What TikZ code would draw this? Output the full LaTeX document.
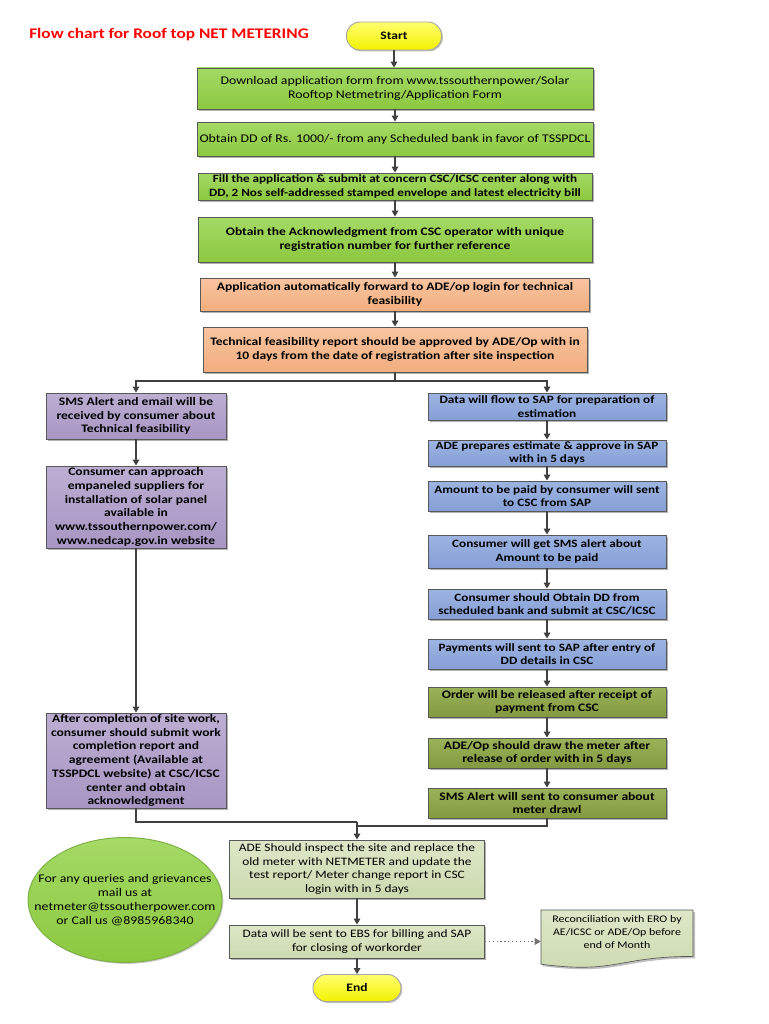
\documentclass[tikz,border=0pt]{standalone}
\usepackage{fontspec}
\setmainfont{Carlito}[FakeStretch=1.18]
\usetikzlibrary{arrows.meta,shadows,shapes.geometric}
\definecolor{bord}{HTML}{595959}
\definecolor{lineg}{HTML}{404040}
\definecolor{gtop}{HTML}{A4DA66}
\definecolor{gbot}{HTML}{8CC83F}
\definecolor{otop}{HTML}{F8C4A0}
\definecolor{obot}{HTML}{F2AE7E}
\definecolor{ptop}{HTML}{BCAED3}
\definecolor{pbot}{HTML}{A895C3}
\definecolor{btop}{HTML}{9DB4E2}
\definecolor{bbot}{HTML}{859FD6}
\definecolor{oltop}{HTML}{9BB358}
\definecolor{olbot}{HTML}{82993F}
\definecolor{stop}{HTML}{DDE7C8}
\definecolor{sbot}{HTML}{CCDAAF}
\definecolor{ytop}{HTML}{FFFF70}
\definecolor{ybot}{HTML}{F2F200}
\definecolor{ellb}{HTML}{7DAF45}
\begin{document}
\begin{tikzpicture}[x=0.75pt,y=-0.75pt,
  wh/.style 2 args={minimum width=#1*0.75pt, minimum height=#2*0.75pt},
  base/.style={draw=bord, line width=0.7pt, align=center, inner sep=0pt,
    drop shadow={shadow xshift=1.2pt, shadow yshift=-1.2pt, opacity=0.3, fill=black}},
  gbox/.style={base, top color=gtop, bottom color=gbot, font=\fontsize{8.8}{10.4}\selectfont},
  gboxb/.style={gbox, font=\bfseries\fontsize{8.6}{10.4}\selectfont},
  obox/.style={base, top color=otop, bottom color=obot, font=\bfseries\fontsize{8.6}{10.4}\selectfont},
  pbox/.style={base, top color=ptop, bottom color=pbot, font=\bfseries\fontsize{8.6}{10.3}\selectfont},
  bbox/.style={base, top color=btop, bottom color=bbot, font=\bfseries\fontsize{8.4}{10}\selectfont},
  olbox/.style={base, top color=oltop, bottom color=olbot, font=\bfseries\fontsize{8.6}{10.2}\selectfont},
  sbox/.style={base, top color=stop, bottom color=sbot, font=\fontsize{8.5}{10.4}\selectfont},
  pill/.style={draw=black!35, line width=0.7pt, top color=ytop, bottom color=ybot, rounded corners=10pt,
    font=\bfseries\fontsize{8.6}{10}\selectfont, inner sep=0pt,
    drop shadow={shadow xshift=1pt, shadow yshift=-1pt, opacity=0.25, fill=black}},
  ln/.style={draw=lineg, line width=0.9pt},
  flow/.style={ln, -{Triangle[width=5pt,length=4.5pt]}},
  dflow/.style={draw=black!55, line width=0.9pt, dotted, -{Triangle[width=5pt,length=4.5pt]}}
]
\useasboundingbox (0,0) rectangle (768,1024);
\fill[white] (0,0) rectangle (768,1024);

\node[text=red, font=\bfseries\fontsize{11}{13}\selectfont] (title) at (169,35) {Flow chart for Roof top NET METERING};

\node[pill, wh={95}{28}] (start) at (394,36) {Start};

\node[gbox, wh={396}{41}] (b1) at (395,88.5) {Download application form from www.tssouthernpower/Solar\\Rooftop Netmetring/Application Form};
\node[gbox, wh={396}{34}] (b2) at (395,139) {Obtain DD of Rs. 1000/- from any Scheduled bank in favor of TSSPDCL};
\node[gboxb, wh={394}{27}, font=\bfseries\fontsize{8.35}{10.2}\selectfont] (b3) at (395,186.5) {Fill the application \& submit at concern CSC/ICSC center along with\\DD, 2 Nos self-addressed stamped envelope and latest electricity bill};
\node[gboxb, wh={394}{45}] (b4) at (395,239.5) {Obtain the Acknowledgment from CSC operator with unique\\registration number for further reference};
\node[obox, wh={389}{33}] (b5) at (395,294.5) {Application automatically forward to ADE/op login for technical\\feasibility};
\node[obox, wh={384}{45}] (b6) at (395,349.5) {Technical feasibility report should be approved by ADE/Op with in\\10 days from the date of registration after site inspection};

\node[pbox, wh={180}{46}] (l1) at (136,416) {SMS Alert and email will be\\received by consumer about\\Technical feasibility};
\node[pbox, wh={180}{82}] (l2) at (136,507) {Consumer can approach\\empaneled suppliers for\\installation of solar panel\\available in\\www.tssouthernpower.com/\\www.nedcap.gov.in website};
\node[pbox, wh={180}{95}] (l3) at (136,760.5) {After completion of site work,\\consumer should submit work\\completion report and\\agreement (Available at\\TSSPDCL website) at CSC/ICSC\\center and obtain\\acknowledgment};

\node[bbox, wh={238}{27}] (r1) at (547,406.5) {Data will flow to SAP for preparation of\\estimation};
\node[bbox, wh={238}{26}] (r2) at (547,453) {ADE prepares estimate \& approve in SAP\\with in 5 days};
\node[bbox, wh={238}{30}] (r3) at (547,496) {Amount to be paid by consumer will sent\\to CSC from SAP};
\node[bbox, wh={238}{33}] (r4) at (547,551.5) {Consumer will get SMS alert about\\Amount to be paid};
\node[bbox, wh={238}{30}] (r5) at (547,604) {Consumer should Obtain DD from\\scheduled bank and submit at CSC/ICSC};
\node[bbox, wh={238}{30}] (r6) at (547,654) {Payments will sent to SAP after entry of\\DD details in CSC};
\node[olbox, wh={238}{30}] (r7) at (547,702) {Order will be released after receipt of\\payment from CSC};
\node[olbox, wh={238}{30}] (r8) at (547,753) {ADE/Op should draw the meter after\\release of order with in 5 days};
\node[olbox, wh={238}{30}] (r9) at (547,803) {SMS Alert will sent to consumer about\\meter drawl};

\node[sbox, wh={255}{58}] (ade) at (357,869) {ADE Should inspect the site and replace the\\old meter with NETMETER and update the\\test report/ Meter change report in CSC\\login with in 5 days};
\node[sbox, wh={255}{33}] (dsent) at (357,941.5) {Data will be sent to EBS for billing and SAP\\for closing of workorder};
\node[pill, wh={88}{27}] (end) at (357,988) {End};

\node[ellipse, draw=ellb, line width=0.7pt, top color=gtop, bottom color=gbot,
  wh={194}{125}, inner sep=0pt,
  drop shadow={shadow xshift=1pt, shadow yshift=-1pt, opacity=0.2, fill=black}] (info) at (125,900) {};
\node[align=center, font=\fontsize{8.8}{10.3}\selectfont] (infot) at (info.center)
  {For any queries and grievances\\mail us at\\netmeter@tssoutherpower.com\\or Call us @8985968340};

% document shape
\node[wh={152}{58}, inner sep=0pt] (rec) at (617,939) {};
\fill[black, opacity=0.25] (543,912) -- (695,912) -- (695,958.4) .. controls (619,958.4) and (619,976.2) .. (543,966.2) -- cycle;
\draw[bord, line width=0.5pt, top color=stop, bottom color=sbot] (541,910) -- (693,910) -- (693,956.4) .. controls (617,956.4) and (617,974.2) .. (541,964.2) -- cycle;
\node[align=center, font=\fontsize{7.6}{9.6}\selectfont] (rect) at (617,932) {Reconciliation with ERO by\\AE/ICSC or ADE/Op before\\end of Month};

% connectors
\draw[flow] (start.south) -- (start.south |- b1.north);
\draw[flow] (b1.south) -- (b1.south |- b2.north);
\draw[flow] (b2.south) -- (b2.south |- b3.north);
\draw[flow] (b3.south) -- (b3.south |- b4.north);
\draw[flow] (b4.south) -- (b4.south |- b5.north);
\draw[flow] (b5.south) -- (b5.south |- b6.north);
\coordinate (split) at (395,381);
\draw[ln] (b6.south) -- (split);
\draw[flow] (split) -| (l1.north);
\draw[flow] (split) -| (r1.north);
\draw[flow] (l1) -- (l2);
\draw[flow] (l2) -- (l3);
\draw[flow] (r1) -- (r2);
\draw[flow] (r2) -- (r3);
\draw[flow] (r3) -- (r4);
\draw[flow] (r4) -- (r5);
\draw[flow] (r5) -- (r6);
\draw[flow] (r6) -- (r7);
\draw[flow] (r7) -- (r8);
\draw[flow] (r8) -- (r9);
\coordinate (joinl) at (357,822);
\coordinate (joinr) at (357,826);
\draw[ln] (l3.south) |- (joinl);
\draw[ln] (r9.south) |- (joinr);
\draw[flow] (joinl) -- (ade.north);
\draw[flow] (ade) -- (dsent);
\draw[flow] (dsent) -- (end);
\draw[dflow] (dsent.east) -- (dsent.east -| rec.west);
\end{tikzpicture}
\end{document}
